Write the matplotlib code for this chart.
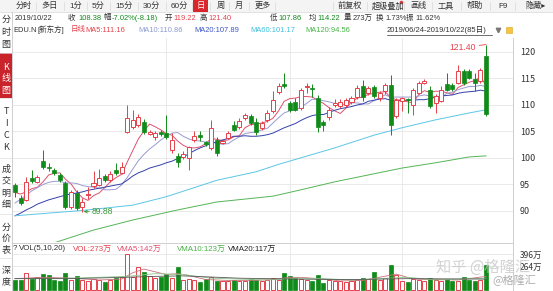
import numpy as np
import matplotlib.pyplot as plt
from matplotlib.patches import Rectangle
from matplotlib.lines import Line2D

plt.rcParams['font.family'] = ['Noto Sans CJK SC', 'DejaVu Sans']
FAM = ['Liberation Sans', 'Noto Sans CJK SC', 'DejaVu Sans']

# ---- data (EDU.N daily, 2019/06/24 - 2019/10/22) ----
opens = [94.9, 92.5, 92.1, 96.2, 95.5, 99.4, 98.3, 97.7, 96.8, 95.3,
         90.8, 93.4, 90.8, 93.0, 94.7, 94.9, 96.6, 95.8, 97.7, 97.2,
         104.9, 105.8, 106.2, 106.8, 104.5, 104.0, 104.9, 104.7, 101.5, 100.4,
         100.2, 100.0, 103.4, 104.3, 103.0, 101.9, 103.4, 102.8, 103.8, 106.2,
         105.8, 107.5, 107.9, 106.8, 105.7, 107.2, 108.9, 112.5, 114.0, 110.4,
         110.6, 109.4, 113.4, 113.2, 111.3, 106.8, 107.7, 110.0, 109.8, 110.0,
         110.6, 111.5, 113.6, 112.3, 113.4, 111.3, 112.6, 113.8, 107.9, 110.8,
         111.1, 110.0, 112.3, 114.2, 112.8, 110.4, 110.8, 114.0, 113.8, 114.2,
         116.4, 116.4, 114.9, 114.5, 119.22]
highs = [95.3, 93.0, 96.4, 97.7, 96.8, 101.5, 99.0, 98.1, 97.2, 95.7,
         94.0, 94.0, 92.5, 94.5, 97.5, 98.0, 97.0, 97.5, 99.0, 99.2,
         110.0, 109.1, 108.3, 107.4, 105.3, 105.1, 105.3, 108.1, 104.7, 100.9,
         101.3, 102.3, 105.1, 105.1, 103.2, 107.2, 104.0, 103.6, 105.1, 107.0,
         107.5, 108.5, 108.3, 107.5, 107.0, 109.1, 112.6, 114.2, 116.0, 110.8,
         111.3, 113.2, 114.2, 114.0, 111.9, 107.2, 109.6, 111.1, 111.1, 111.3,
         111.7, 113.8, 114.7, 113.6, 113.8, 112.6, 114.2, 115.7, 111.3, 111.5,
         111.3, 113.2, 114.5, 114.9, 113.6, 112.1, 113.6, 116.0, 114.2, 117.5,
         116.8, 116.8, 116.0, 116.9, 121.40]
lows = [92.6, 91.1, 91.8, 95.3, 95.3, 97.9, 97.5, 96.8, 95.5, 90.4,
        90.4, 90.2, 89.88, 92.3, 94.3, 94.7, 95.5, 95.5, 96.8, 97.0,
        104.7, 105.5, 105.8, 104.5, 104.3, 103.4, 104.2, 103.6, 100.9, 98.3,
        99.8, 97.7, 103.0, 103.2, 102.3, 101.5, 100.4, 102.6, 103.6, 105.1,
        105.5, 107.2, 106.2, 104.3, 105.3, 106.8, 108.5, 112.1, 113.2, 108.7,
        108.9, 109.1, 112.3, 111.5, 104.9, 105.1, 107.2, 109.6, 109.4, 109.6,
        110.2, 111.1, 110.8, 111.9, 111.3, 110.8, 112.1, 104.3, 107.5, 108.9,
        108.5, 108.1, 112.1, 114.0, 109.4, 108.5, 110.6, 112.6, 112.6, 114.0,
        113.8, 114.9, 112.6, 114.2, 107.86]
closes = [93.6, 91.5, 95.5, 95.7, 96.4, 98.3, 98.1, 97.2, 95.8, 90.8,
          93.6, 90.6, 91.7, 93.2, 95.3, 96.2, 95.8, 97.0, 97.2, 98.3,
          107.5, 107.2, 107.7, 104.9, 104.9, 104.7, 104.5, 104.0, 103.4, 99.2,
          100.8, 102.1, 104.2, 104.0, 102.6, 105.7, 100.9, 103.2, 104.7, 105.3,
          107.0, 108.1, 106.6, 104.9, 106.6, 108.5, 111.0, 113.6, 113.6, 109.1,
          109.1, 112.8, 113.6, 113.0, 105.8, 106.2, 109.1, 110.4, 110.6, 110.9,
          111.3, 113.2, 111.5, 113.2, 111.7, 112.3, 113.8, 106.2, 110.9, 111.3,
          110.9, 112.8, 114.2, 114.5, 109.8, 111.7, 112.8, 112.8, 113.0, 116.4,
          114.2, 115.1, 114.2, 116.56, 108.38]
volumes = [110, 115, 185, 120, 140, 180, 170, 110, 100, 185,
           110, 150, 105, 95, 120, 110, 90, 110, 130, 145,
           396, 140, 256, 200, 150, 130, 140, 180, 130, 255,
           110, 120, 105, 90, 120, 140, 100, 95, 100, 110,
           95, 100, 120, 110, 95, 115, 130, 110, 183, 150,
           130, 120, 105, 100, 165, 80, 110, 100, 95, 90,
           100, 105, 130, 120, 200, 110, 130, 275, 160, 100,
           90, 120, 110, 100, 130, 110, 100, 120, 100, 95,
           140, 110, 100, 110, 273]

ma5 = [93.5, 93.2, 93.6, 94.2, 94.5, 95.5, 96.8, 97.1, 97.2, 96.0,
       95.1, 93.6, 92.5, 92.0, 92.9, 93.4, 94.4, 95.5, 96.3, 96.9,
       99.2, 101.4, 103.6, 105.1, 106.4, 105.9, 105.3, 104.6, 104.3, 103.2,
       102.4, 101.9, 101.9, 102.1, 102.7, 103.7, 103.5, 103.3, 103.4, 104.0,
       104.2, 105.7, 106.3, 106.4, 106.6, 106.9, 107.5, 108.9, 110.7, 111.2,
       111.3, 111.6, 111.6, 111.5, 110.9, 110.3, 109.5, 108.9, 108.4, 109.4,
       110.5, 111.3, 111.5, 112.0, 112.2, 112.4, 112.5, 111.4, 111.0, 110.9,
       110.6, 110.4, 112.0, 112.7, 112.4, 112.6, 112.6, 112.3, 112.0, 113.3,
       113.8, 114.3, 114.6, 115.3, 113.7]
ma10 = [91.5, 92.2, 93.0, 93.8, 94.4, 95.0, 95.4, 95.6, 95.6, 95.3,
        95.3, 95.2, 94.8, 94.6, 94.5, 94.3, 94.0, 94.0, 94.1, 94.9,
        96.3, 97.9, 99.5, 100.7, 101.7, 102.5, 103.4, 104.1, 104.7, 104.8,
        104.1, 103.6, 103.3, 103.2, 103.0, 103.1, 102.7, 102.6, 102.7, 103.4,
        104.0, 104.6, 104.8, 104.9, 105.3, 105.6, 106.6, 107.6, 108.5, 108.9,
        109.1, 109.6, 110.3, 111.1, 111.0, 110.8, 110.6, 110.3, 110.0, 110.2,
        110.4, 110.4, 110.2, 110.2, 110.8, 111.4, 111.9, 111.5, 111.5, 111.5,
        111.5, 111.5, 111.7, 111.9, 111.7, 111.6, 111.5, 112.2, 112.4, 112.9,
        113.2, 113.5, 113.5, 113.7, 113.5]
ma20 = [89.1, 89.6, 90.2, 90.7, 91.3, 91.7, 92.1, 92.4, 92.7, 93.0,
        93.2, 93.4, 93.6, 93.9, 94.1, 94.3, 94.5, 94.7, 94.9, 95.1,
        95.8, 96.6, 97.2, 97.6, 98.1, 98.4, 98.7, 99.1, 99.4, 99.9,
        100.2, 100.8, 101.4, 101.9, 102.3, 102.8, 103.0, 103.4, 103.7, 104.1,
        104.1, 104.2, 104.1, 104.1, 104.2, 104.4, 104.7, 105.2, 105.7, 106.1,
        106.5, 107.1, 107.6, 108.0, 108.2, 108.2, 108.6, 109.0, 109.3, 109.5,
        109.7, 110.0, 110.2, 110.7, 110.9, 111.1, 111.2, 110.9, 110.7, 110.9,
        110.9, 110.9, 111.0, 111.0, 111.2, 111.5, 111.7, 111.8, 111.9, 112.2,
        112.4, 112.5, 112.6, 112.8, 112.6]
ma60_idx = [0, 12, 21, 27, 36, 43, 47, 57, 64, 69, 75, 81, 84]
ma60 = [89.1, 90.1, 91.1, 92.7, 95.8, 97.4, 98.8, 101.9, 104.3, 105.7, 107.2, 108.5, 109.1]
ma120_idx = [7, 14, 21, 29, 36, 46, 51, 57, 63, 69, 75, 81, 84]
ma120 = [84.0, 86.4, 88.3, 90.2, 91.7, 92.8, 94.0, 95.5, 96.8, 98.1, 99.1, 100.2, 100.4]

vma5_idx = [0, 5, 10, 15, 19, 21, 23, 25, 27, 29, 31, 34, 38, 42, 46, 49, 52, 55, 58, 62, 65, 68, 71, 75, 79, 84]
vma5 = [125, 140, 130, 110, 120, 190, 230, 200, 170, 180, 160, 115, 105, 105, 115, 140, 135, 120, 100, 105, 140, 175, 120, 115, 110, 150]
vma10_idx = [0, 10, 20, 25, 30, 35, 45, 50, 55, 60, 65, 70, 75, 84]
vma10 = [125, 130, 150, 180, 170, 130, 110, 130, 125, 110, 125, 140, 110, 130]
vma20_idx = [0, 10, 20, 25, 30, 40, 50, 60, 70, 84]
vma20 = [125, 125, 140, 150, 155, 130, 120, 115, 125, 120]

month_start_idx = [27, 49, 69]   # Aug 1, Sep 3, Oct 1
price_ticks = [90, 95, 100, 105, 110, 115, 120]
vol_ticks = [264, 396]

W, H = 553, 291
RED = '#e5414b'
GREEN = '#108a18'
GRID = '#e6e6e6'
TXT = '#333333'


def fx(x):
    return x / W


def fy(y):
    return 1 - y / H


def put(px, py, s, col=TXT, size=5.7, **kw):
    fig.text(fx(px), fy(py), s, fontsize=size, color=col, va='center', ha='left',
             family=FAM, **kw)


fig = plt.figure(figsize=(W / 100, H / 100), dpi=100)
fig.patch.set_facecolor('white')

o = np.array(opens); h = np.array(highs); l = np.array(lows); c = np.array(closes)
x = np.arange(len(c))
up = c >= o
body_lo = np.minimum(o, c)
body_h = np.maximum(np.abs(c - o), 0.1)
cols = np.where(up, RED, GREEN)

# ---- price panel ----
ax = fig.add_axes([fx(12), fy(242), (513 - 12) / W, (242 - 38) / H])
ax.set_xlim(-0.535, 88.8)
ax.set_ylim(84.15, 122.64)
ax.vlines(x, l, h, colors=cols, linewidth=0.7, zorder=3)
ax.bar(x[up], body_h[up], bottom=body_lo[up], width=0.72, facecolor='white',
       edgecolor=RED, linewidth=0.7, zorder=4)
ax.bar(x[~up], body_h[~up], bottom=body_lo[~up], width=0.72, facecolor=GREEN,
       edgecolor=GREEN, linewidth=0.5, zorder=4)

ax.plot(x, ma5, color='#e0506e', lw=0.7, zorder=2)
ax.plot(x, ma10, color='#9a9ad2', lw=0.7, zorder=2)
ax.plot(x, ma20, color='#3440a8', lw=0.7, zorder=2)
ax.plot(ma60_idx, ma60, color='#5cc6e6', lw=0.7, zorder=2)
ax.plot(ma120_idx, ma120, color='#56b456', lw=0.7, zorder=2)

ax.set_yticks(price_ticks)
ax.grid(axis='y', color=GRID, lw=0.6)
for m in month_start_idx:
    ax.axvline(m, color=GRID, lw=0.6, zorder=0)
ax.set_xticks([])
ax.yaxis.tick_right()
ax.tick_params(axis='y', length=0, labelsize=6.5, labelcolor=TXT, pad=5)
for s in ['top', 'left', 'bottom']:
    ax.spines[s].set_visible(False)
ax.spines['right'].set_color('#cfcfcf')
ax.spines['right'].set_linewidth(0.7)

imax = int(np.argmax(h))
ax.annotate(f'{h[imax]:.2f}', xy=(imax, h[imax]), xytext=(-7, -2), textcoords='offset points',
            ha='right', va='center', fontsize=6.2, color=RED, family=FAM,
            arrowprops=dict(arrowstyle='-', color=RED, lw=0.6, shrinkA=0, shrinkB=0))
imin = int(np.argmin(l))
ax.annotate(f'{l[imin]:.2f}', xy=(imin, l[imin]), xytext=(7, 0), textcoords='offset points',
            ha='left', va='center', fontsize=6.2, color='#3d9a3d', family=FAM,
            arrowprops=dict(arrowstyle='->', color='#3d9a3d', lw=0.6, shrinkA=0, shrinkB=1,
                            mutation_scale=5))

# ---- volume panel ----
axv = fig.add_axes([fx(12), 0, (513 - 12) / W, (291 - 243) / H])
v = np.array(volumes)
axv.set_xlim(-0.535, 88.8)
axv.set_ylim(-11, 517)
axv.bar(x[up], v[up], width=0.72, facecolor='white', edgecolor=RED, linewidth=0.7, zorder=3)
axv.bar(x[~up], v[~up], width=0.72, facecolor=GREEN, edgecolor=GREEN, linewidth=0.5, zorder=3)
axv.plot(vma5_idx, vma5, color='#c8707a', lw=0.6, zorder=4)
axv.plot(vma10_idx, vma10, color='#8cc88c', lw=0.6, zorder=4)
axv.plot(vma20_idx, vma20, color='#555555', lw=0.6, zorder=4)
axv.set_yticks(vol_ticks)
axv.set_yticklabels([f'{t}万' for t in vol_ticks])
axv.grid(axis='y', color=GRID, lw=0.6)
for m in month_start_idx:
    axv.axvline(m, color=GRID, lw=0.6, zorder=0)
axv.set_xticks([])
axv.yaxis.tick_right()
axv.tick_params(axis='y', length=0, labelsize=6.0, labelcolor=TXT, pad=5)
for s in ['left', 'bottom']:
    axv.spines[s].set_visible(False)
axv.spines['top'].set_color('#cfcfcf')
axv.spines['right'].set_color('#cfcfcf')
axv.spines['top'].set_linewidth(0.7)
axv.spines['right'].set_linewidth(0.7)

# volume legend
vol_legend = [(13, '?', TXT), (19, 'VOL(5,10,20)', TXT), (73, 'VOL:273万', RED),
              (117, 'VMA5:142万', '#e0506e'), (177, 'VMA10:123万', '#48b048'),
              (228, 'VMA20:117万', '#222222')]
for px, s, col in vol_legend:
    put(px, 249, s, col)

# ---- top toolbar ----
fig.add_artist(Rectangle((0, fy(12)), 1, 12 / H, transform=fig.transFigure,
                         facecolor='#f4f4f4', edgecolor='none'))
fig.add_artist(Line2D([0, 1], [fy(12), fy(12)], transform=fig.transFigure, color='#dddddd', lw=0.6))
fig.add_artist(Rectangle((fx(193), fy(12)), 15 / W, 12 / H, transform=fig.transFigure,
                         facecolor='#d9262c', edgecolor='none'))
tool_left = [(16, '分时'), (41, '多日'), (69, '1分'), (92, '5分'), (115, '15分'), (143, '30分'),
             (171, '60分'), (196, '日'), (217, '周'), (235, '月'), (255, '更多')]
for px, s in tool_left:
    put(px, 6, s, 'white' if s == '日' else TXT, size=5.9)
for sx in [36, 64, 87, 110, 138, 166, 192, 210, 229, 249, 275, 333, 367, 404, 432, 461, 490, 515]:
    fig.add_artist(Line2D([fx(sx), fx(sx)], [fy(10), fy(2)], transform=fig.transFigure,
                          color='#d8d8d8', lw=0.5))
tool_right = [(338, '前复权'), (372, '超级叠加'), (410, '画线'), (438, '工具'), (467, '帮助'),
              (498, 'F9'), (525, '隐藏▸')]
for px, s in tool_right:
    put(px, 6, s, size=5.9)
fig.add_artist(Line2D([fx(400.5)], [fy(2)], transform=fig.transFigure, marker='o',
                      markersize=1.6, color=RED, lw=0))

# ---- header rows ----
row2 = [(15, '2019/10/22', TXT), (68, '收', TXT), (78, '108.38', GREEN), (104, '幅', TXT),
        (112, '-7.02%(-8.18)', GREEN), (165, '开', TXT), (173, '119.22', RED), (200, '高', TXT),
        (208, '121.40', RED), (270, '低', TXT), (278, '107.86', GREEN), (309, '均', TXT),
        (317, '114.22', GREEN), (344, '量', TXT), (353, '273万', TXT), (376, '换', TXT),
        (385, '1.73%', TXT), (406, '振', TXT), (415, '11.62%', TXT)]
for px, s, col in row2:
    put(px, 18, s, col, size=5.4)

row3 = [(13, 'EDU.N', TXT), (37, '[新东方]', TXT), (71, '日线', RED), (85, 'MA5:111.16', RED),
        (138, 'MA10:110.86', '#8c9bd0'), (194, 'MA20:107.89', '#3c55c8'),
        (250, 'MA60:101.17', '#3cc0e0'), (305, 'MA120:94.56', '#46b446')]
for px, s, col in row3:
    put(px, 30, s, col, size=5.4)
put(387, 30, '2019/06/24-2019/10/22(85日)', TXT, size=5.5)
fig.add_artist(Line2D([fx(387), fx(492)], [fy(34.5), fy(34.5)], transform=fig.transFigure,
                      color=TXT, lw=0.5))
fig.add_artist(Line2D([fx(497.5)], [fy(30)], transform=fig.transFigure, marker='v',
                      markersize=3.2, color='#777777', lw=0))
fig.add_artist(Rectangle((fx(506), fy(33)), 6 / W, 6 / H, transform=fig.transFigure,
                         facecolor='#f5c542', edgecolor='#d9a520', lw=0.4))

# ---- left sidebar ----
fig.add_artist(Line2D([fx(12), fx(12)], [0, fy(12)], transform=fig.transFigure,
                      color='#cfcfcf', lw=0.7))
fig.add_artist(Rectangle((0, fy(98)), 12 / W, (98 - 53) / H, transform=fig.transFigure,
                         facecolor='#c9242b', edgecolor='none'))
side = [(19, '分', TXT), (32, '时', TXT), (44, '图', TXT),
        (67, 'K', 'white'), (79, '线', 'white'), (90, '图', 'white'),
        (112, 'T', TXT), (123, 'I', TXT), (136, 'C', TXT), (147, 'K', TXT),
        (169, '成', TXT), (181, '交', TXT), (193, '明', TXT), (205, '细', TXT),
        (227, '分', TXT), (238, '价', TXT), (250, '表', TXT),
        (270, '深', TXT), (283, '度', TXT)]
for py, s, col in side:
    fig.text(fx(6), fy(py), s, fontsize=6.5, color=col, va='center', ha='center')
for sy in [53, 98, 158, 214, 258]:
    fig.add_artist(Line2D([0, fx(12)], [fy(sy), fy(sy)], transform=fig.transFigure,
                          color='#dddddd', lw=0.5))

# ---- watermark ----
fig.text(fx(436), fy(267), '知乎 @格隆汇', fontsize=11, color='#c8c8c8', alpha=0.8,
         va='center', ha='left')
fig.text(fx(492), fy(280), '@格隆汇', fontsize=8, color='#9a9a9a', alpha=0.8,
         va='center', ha='left')

fig.savefig('out.png', dpi=100)
